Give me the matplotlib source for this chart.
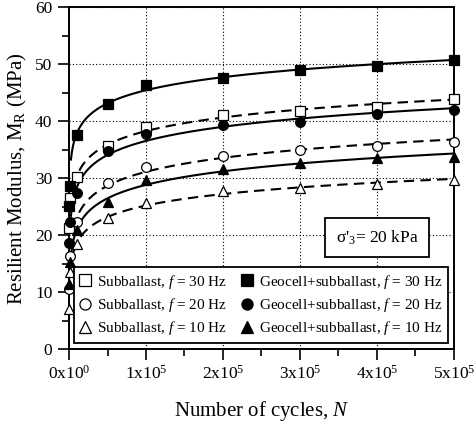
import numpy as np
import matplotlib
matplotlib.use('Agg')
import matplotlib.pyplot as plt
from matplotlib.lines import Line2D
from matplotlib.ticker import MultipleLocator, FixedLocator

plt.rcParams['font.family'] = ['Liberation Serif', 'DejaVu Serif']
plt.rcParams['mathtext.fontset'] = 'custom'
plt.rcParams['mathtext.rm'] = 'Liberation Serif'
plt.rcParams['mathtext.it'] = 'Liberation Serif:italic'

# number of load cycles
cycles = [100, 1000, 1e4, 5e4, 1e5, 2e5, 3e5, 4e5, 5e5]

# resilient modulus (MPa)
geo_30 = [25.2, 28.7, 37.6, 43.1, 46.3, 47.6, 48.9, 49.7, 50.8]
sub_30 = [21.2, 26.6, 30.2, 35.6, 39.0, 41.1, 41.8, 42.5, 43.9]
geo_20 = [18.6, 22.3, 27.5, 34.8, 37.7, 39.3, 39.9, 41.2, 41.9]
sub_20 = [10.6, 16.3, 22.4, 29.1, 32.0, 33.9, 34.9, 35.6, 36.4]
geo_10 = [11.5, 15.3, 20.9, 25.9, 29.7, 31.7, 32.6, 33.5, 33.8]
sub_10 = [7.0, 13.5, 18.4, 23.1, 25.6, 27.7, 28.3, 29.0, 29.7]

xtick_labels = ['0x10$^{0}$', '1x10$^{5}$', '2x10$^{5}$', '3x10$^{5}$', '4x10$^{5}$', '5x10$^{5}$']

series = [
    (sub_30, 's', 'none', '--', 'Subballast, $f$ = 30 Hz'),
    (sub_20, 'o', 'none', '--', 'Subballast, $f$ = 20 Hz'),
    (sub_10, '^', 'none', '--', 'Subballast, $f$ = 10 Hz'),
    (geo_30, 's', 'black', '-', 'Geocell+subballast, $f$ = 30 Hz'),
    (geo_20, 'o', 'black', '-', 'Geocell+subballast, $f$ = 20 Hz'),
    (geo_10, '^', 'black', '-', 'Geocell+subballast, $f$ = 10 Hz'),
]

fig = plt.figure(figsize=(4.74, 4.22), dpi=100)
ax = fig.add_axes([0.1456, 0.172, 0.812, 0.811])

x = np.array(cycles)
handles = []
for vals, mk, fc, ls, lab in series:
    y = np.array(vals)
    # log trend line through the points from 1e4 cycles on
    sel = x >= 1e4
    b, a = np.polyfit(np.log(x[sel]), y[sel], 1)
    start = 2500 if ls == '-' else 6000
    nn = np.linspace(start, 5e5, 400)
    ax.plot(nn, a + b * np.log(nn), color='black', ls=ls, lw=1.5,
            dashes=(5, 3) if ls == '--' else (None, None), zorder=2)
    ax.plot(x, y, ls='none', marker=mk, ms=7, mfc=fc if fc != 'none' else 'white',
            mec='black', mew=0.9, clip_on=False, zorder=3)
    handles.append(Line2D([], [], ls='none', marker=mk, ms=8, mfc=fc if fc != 'none' else 'white',
                          mec='black', mew=0.9, label=lab))

ax.set_xlim(0, 5e5)
ax.set_ylim(0, 60)
ax.xaxis.set_major_locator(FixedLocator([0, 1e5, 2e5, 3e5, 4e5, 5e5]))
ax.xaxis.set_minor_locator(MultipleLocator(5e4))
ax.set_xticklabels(xtick_labels)
ax.yaxis.set_major_locator(MultipleLocator(10))
ax.yaxis.set_minor_locator(MultipleLocator(5))
ax.tick_params(which='both', direction='out', top=False, right=False, labelsize=12.5, width=1.2)
ax.tick_params(which='major', length=8, pad=4)
ax.tick_params(axis='x', which='major', pad=3)
ax.tick_params(which='minor', length=5)
for s in ax.spines.values():
    s.set_linewidth(1.4)
ax.grid(True, which='major', ls=(0, (1, 2)), color='black', lw=0.8)
ax.set_axisbelow(True)

ax.set_xlabel('Number of cycles, $N$', fontsize=15, labelpad=12)
ax.set_ylabel('Resilient Modulus, M$_\\mathregular{R}$ (MPa)', fontsize=15, labelpad=4)

ax.text(0.80, 0.327, "σ'$_\\mathregular{3}$= 20 kPa", transform=ax.transAxes, fontsize=12.5,
        ha='center', va='center', zorder=5,
        bbox=dict(boxstyle='square,pad=0.6', fc='white', ec='black', lw=1.3))

leg = ax.legend(handles=handles, ncol=2, loc='lower right', bbox_to_anchor=(0.985, 0.02),
                fontsize=11, frameon=True, fancybox=False, edgecolor='black',
                handlelength=0.8, handletextpad=0.4, columnspacing=0.9,
                labelspacing=0.35, borderpad=0.35, borderaxespad=0.0)
leg.get_frame().set_linewidth(1.3)
leg.get_frame().set_alpha(1)
leg.set_zorder(6)

fig.savefig('out.png', dpi=100)
